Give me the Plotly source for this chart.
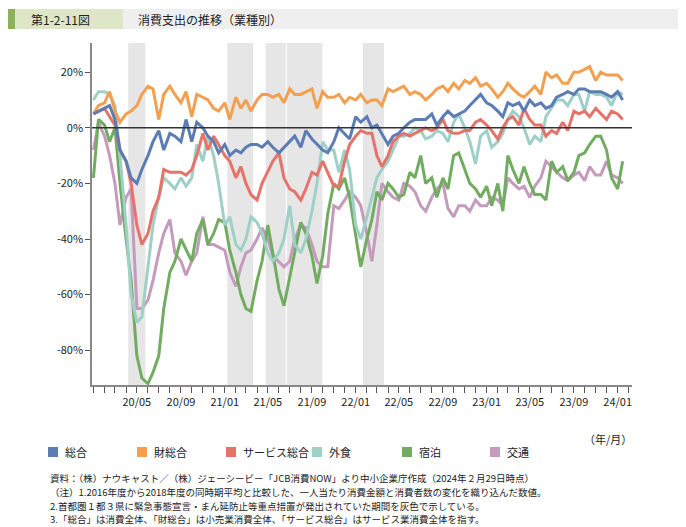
import plotly.graph_objects as go
import pandas as pd

dates = pd.date_range("2020-01-01", periods=98, freq="SMS")

sogo = [5,6,7,8,3,-8,-12,-18,-20,-15,-10,-5,-1,-8,-2,-3,-5,3,-5,2,0,-3,-5,-9,
        -6,-10,-8,-9,-7,-6,-6,-7,-5,-7,-9,-7,-5,-3,-7,-1,-4,-6,-8,-9,-5,0,-2,-4,
        4,2,4,0,1,-2,-6,-3,-2,0,2,3,3,3,5,1,4,6,4,5,6,8,10,12,
        9,8,6,4,9,8,9,6,10,8,9,7,8,11,12,13,12,14,14,13,13,13,12,11,13,10]
zai = [5,8,9,13,6,2,5,6,8,12,15,14,3,12,15,12,9,13,4,12,11,10,7,6,
       9,3,11,7,10,6,10,12,12,11,12,9,14,12,12,13,14,7,13,11,11,12,9,11,
       10,12,9,10,10,8,14,13,14,15,12,13,12,10,12,14,15,13,16,14,17,16,18,15,
       16,14,11,13,16,14,12,11,13,15,12,20,18,19,16,16,20,20,21,22,17,20,19,19,19,17]
service = [5,6,7,4,1,-8,-12,-20,-35,-42,-38,-30,-25,-15,-16,-16,-16,-17,-15,-10,-2,-8,-3,-6,
           -10,-12,-18,-14,-20,-24,-26,-20,-16,-12,-9,-18,-22,-23,-26,-22,-16,-17,-12,-16,-21,-21,-12,-6,
           -3,-1,-2,-2,-10,-14,-10,-5,-3,-2,-3,-2,-1,0,-1,0,3,-1,-2,-2,-1,-1,2,3,
           1,-1,-4,0,3,4,1,7,3,1,1,-3,-1,-2,2,-1,6,5,6,4,7,5,3,6,5,3]
gaishoku = [10,13,13,12,8,-10,-35,-60,-70,-68,-50,-35,-25,-18,-20,-22,-18,-21,-18,-6,-12,-3,-10,-20,
            -35,-32,-42,-44,-40,-32,-34,-38,-45,-48,-45,-40,-28,-42,-45,-40,-30,-20,-5,-8,-8,-16,-8,-15,
            -35,-40,-32,-25,-18,-15,-12,-8,-3,-3,-2,0,-1,-4,-3,-1,-2,-5,2,5,0,-5,-13,-3,
            -1,-7,-5,-2,3,6,4,0,-6,-3,-5,4,7,10,10,8,12,12,6,13,12,12,11,8,13,12]
shukuhaku = [-18,3,1,-5,0,-20,-40,-55,-82,-90,-92,-88,-82,-65,-52,-48,-40,-44,-48,-38,-33,-42,-38,-33,
             -34,-44,-52,-60,-65,-66,-55,-48,-35,-45,-58,-64,-54,-44,-34,-38,-46,-56,-46,-31,-20,-22,-18,-25,
             -38,-50,-40,-33,-23,-26,-20,-22,-25,-24,-16,-18,-10,-20,-18,-25,-18,-22,-10,-9,-15,-20,-22,-25,
             -21,-28,-20,-30,-10,-15,-20,-14,-20,-24,-24,-26,-12,-16,-14,-19,-16,-10,-9,-6,-3,-3,-8,-18,-22,-12]
kotsu = [-8,2,-3,-10,-20,-35,-25,-22,-65,-65,-62,-55,-45,-38,-33,-45,-48,-53,-48,-45,-32,-42,-42,-43,
         -44,-52,-57,-50,-45,-44,-40,-36,-40,-46,-48,-50,-48,-40,-35,-36,-42,-48,-50,-50,-28,-29,-26,-23,
         -25,-28,-38,-48,-35,-20,-23,-25,-26,-20,-21,-23,-28,-30,-25,-22,-20,-29,-32,-28,-28,-30,-26,-28,
         -28,-25,-26,-28,-18,-20,-22,-21,-25,-21,-18,-12,-14,-16,-18,-19,-17,-16,-19,-14,-17,-17,-12,-17,-18,-20]

names = ["総合", "財総合", "サービス総合", "外食", "宿泊", "交通"]
series = [sogo, zai, service, gaishoku, shukuhaku, kotsu]
colors = ["#5b7db3", "#f2a04f", "#e5736a", "#9fd0c8", "#72ac60", "#c49abd"]
draw_order = [5, 4, 3, 2, 1, 0]

emergency = [("2020-04-07", "2020-05-25"), ("2021-01-08", "2021-03-21"),
             ("2021-04-25", "2021-06-20"), ("2021-06-23", "2021-09-30"),
             ("2022-01-21", "2022-03-21")]

tick_months = pd.date_range("2020-01-01", "2024-02-01", freq="MS")
label_months = {"2020-05", "2020-09", "2021-01", "2021-05", "2021-09", "2022-01",
                "2022-05", "2022-09", "2023-01", "2023-05", "2023-09", "2024-01"}
tick_text = [d.strftime("%y/%m") if d.strftime("%Y-%m") in label_months else "" for d in tick_months]

OFF = 8  # page body margin
W, H = 686 - 2 * OFF, 527 - OFF
L, R, T, B = 92, 632, 43, 385  # reference pixel coords of plot area
def px(x): return (x - L) / (R - L)
def py(y): return (B - y) / (B - T)

fig = go.Figure()
for i in draw_order:
    fig.add_trace(go.Scatter(x=dates, y=series[i], mode="lines", line=dict(color=colors[i], width=3),
                             showlegend=False, hoverinfo="skip"))

shapes = []
for a, b in emergency:
    shapes.append(dict(type="rect", xref="x", yref="paper", x0=a, x1=b, y0=0, y1=1,
                       fillcolor="#e6e6e6", line=dict(width=0), layer="below"))
shapes.append(dict(type="line", xref="paper", yref="y", x0=0, x1=1, y0=0, y1=0,
                   line=dict(color="#333", width=1.5), layer="above"))
def rect(x0, x1, y0, y1, c):
    return dict(type="rect", xref="paper", yref="paper", x0=px(x0), x1=px(x1), y0=py(y1), y1=py(y0),
                fillcolor=c, line=dict(width=0))
shapes += [rect(OFF, OFF + 7, OFF + 1, 29, "#8db05a"), rect(OFF + 7, 123, OFF + 1, 29, "#dde7c7"),
           rect(123, 686 - OFF, OFF + 1, 29, "#efefef")]

annotations = [
    dict(text="第1-2-11図", x=29, y=19, xanchor="left", font=dict(size=12, color="#222")),
    dict(text="消費支出の推移（業種別）", x=136, y=19, xanchor="left", font=dict(size=12, color="#222")),
    dict(text="（年/月）", x=634, y=439, xanchor="right", font=dict(size=11, color="#222")),
]
leg_x = [48, 137, 226, 312, 402, 490]
for i in range(6):
    shapes.append(rect(leg_x[i], leg_x[i] + 10, 447, 457, colors[i]))
    annotations.append(dict(text=names[i], x=leg_x[i] + 15, y=452, xanchor="left", font=dict(size=11, color="#222")))

notes = ["資料：（株）ナウキャスト／（株）ジェーシービー「JCB消費NOW」より中小企業庁作成（2024年２月29日時点）",
         "（注）1.2016年度から2018年度の同時期平均と比較した、一人当たり消費金額と消費者数の変化を織り込んだ数値。",
         "2.首都圏１都３県に緊急事態宣言・まん延防止等重点措置が発出されていた期間を灰色で示している。",
         "3.「総合」は消費全体、「財総合」は小売業消費全体、「サービス総合」はサービス業消費全体を指す。"]
ny = [478, 492, 506, 519]
nx = [48, 48, 48, 48]
for t, y, x in zip(notes, ny, nx):
    annotations.append(dict(text=t, x=x, y=y, xanchor="left", font=dict(size=9.5, color="#222")))
for a in annotations:
    a.update(xref="paper", yref="paper", showarrow=False, yanchor="middle")
    a["x"] = px(a["x"])
    a["y"] = py(a["y"])

fig.update_layout(
    width=W, height=H, margin=dict(l=L - OFF, r=W - (R - OFF), t=T - OFF, b=H - (B - OFF), autoexpand=False),
    paper_bgcolor="white", plot_bgcolor="white", showlegend=False,
    font=dict(family="Noto Sans CJK JP", size=11, color="#222"),
    shapes=shapes, annotations=annotations,
    xaxis=dict(range=["2019-12-28", "2024-02-10"], tickmode="array", tickvals=tick_months, ticktext=tick_text,
               ticks="outside", ticklen=6, tickcolor="#555", showline=True, linecolor="#888", linewidth=1.5,
               showgrid=False, zeroline=False, tickfont=dict(size=11)),
    yaxis=dict(range=[-92.5, 30.5], tickvals=[20, 0, -20, -40, -60, -80], ticktext=["20%", "0%", "-20%", "-40%", "-60%", "-80%"],
               ticks="outside", ticklen=5, tickcolor="#555", showline=True, linecolor="#888", linewidth=1.5,
               showgrid=False, zeroline=False, tickfont=dict(size=11)),
)
fig.write_html("out.html")
